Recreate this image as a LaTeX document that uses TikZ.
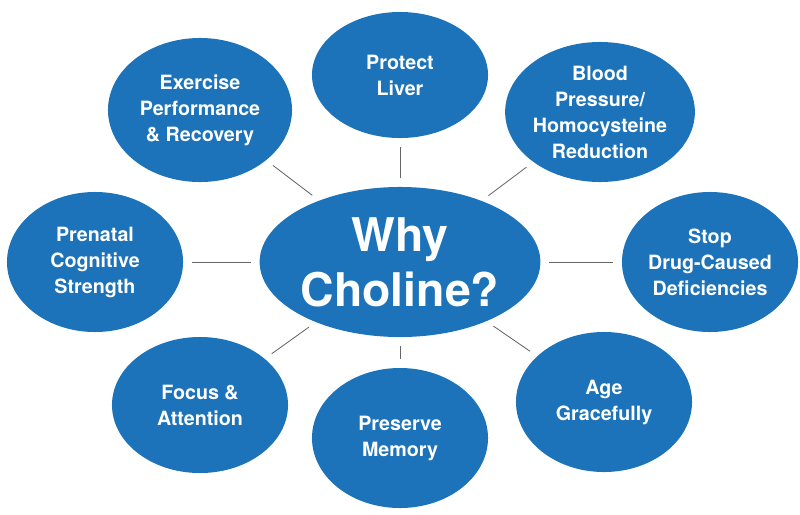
\documentclass[tikz,border=0pt]{standalone}
\usepackage{fontspec}
\setmainfont{TeX Gyre Heros}
\usetikzlibrary{shapes.geometric}
\definecolor{cholblue}{HTML}{1C73B9}
\tikzset{
  bubble/.style={ellipse, fill=cholblue, text=white, inner sep=0pt,
    align=center, font=\bfseries\fontsize{14}{18.5}\selectfont},
  link/.style={draw=black!60, line width=0.6pt, shorten <=6pt, shorten >=6pt}
}
\begin{document}
\begin{tikzpicture}[x=0.025cm, y=-0.025cm]
\useasboundingbox (0,0) rectangle (800,514);

\node[bubble, minimum width=6.75cm, minimum height=3.75cm,
  font=\bfseries\fontsize{33}{39}\selectfont] (why) at (400,262) {Why\\Choline?};

\node[bubble, minimum width=4.4cm, minimum height=3.15cm] (liver) at (400,75) {Protect\\Liver};
\node[bubble, minimum width=4.4cm, minimum height=3.5cm] (blood) at (600,112) {Blood\\Pressure/\\Homocysteine\\Reduction};
\node[bubble, minimum width=4.4cm, minimum height=3.5cm] (stop) at (710,262) {Stop\\Drug-Caused\\Deficiencies};
\node[bubble, minimum width=4.4cm, minimum height=3.5cm] (age) at (604,402) {Age\\Gracefully};
\node[bubble, minimum width=4.4cm, minimum height=3.5cm] (memory) at (400,438) {Preserve\\Memory};
\node[bubble, minimum width=4.4cm, minimum height=3.4cm] (focus) at (200,405) {Focus \&\\Attention};
\node[bubble, minimum width=4.4cm, minimum height=3.5cm] (prenatal) at (95,262) {Prenatal\\Cognitive\\Strength};
\node[bubble, minimum width=4.6cm, minimum height=3.6cm] (exercise) at (200,110) {Exercise\\Performance\\\& Recovery};

% connectors
\foreach \s in {liver,blood,stop,age,memory,focus,prenatal,exercise}
  \draw[link] (why) -- (\s);
\end{tikzpicture}
\end{document}
